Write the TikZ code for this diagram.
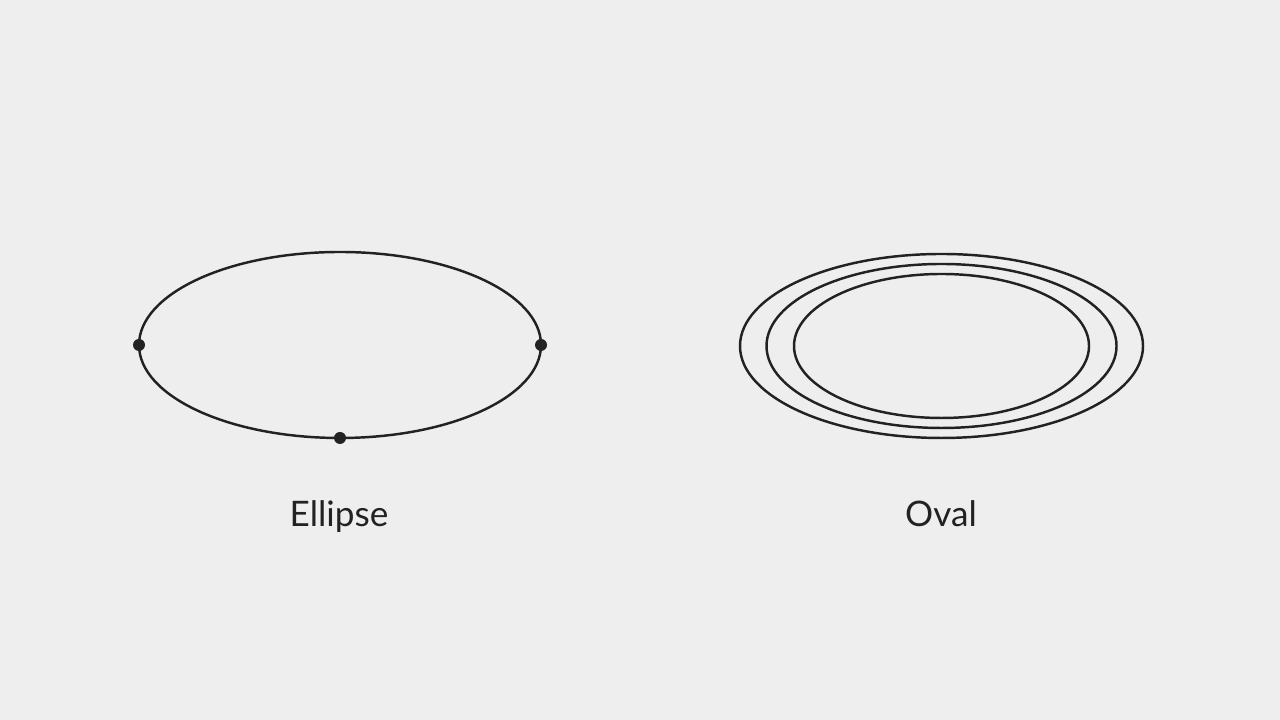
\documentclass[tikz,border=0pt]{standalone}
\usepackage{fontspec}
\setmainfont{Lato}
\definecolor{bgcol}{HTML}{EEEEEE}
\definecolor{inkcol}{HTML}{222222}
\tikzset{
  curve/.style={draw=inkcol, line width=0.7pt},
  dot/.style={circle, fill=inkcol, inner sep=0pt, minimum size=0.12cm},
  caption/.style={anchor=base, text=inkcol, font=\fontsize{10}{12}\selectfont}
}
\begin{document}
\begin{tikzpicture}
    \fill[bgcol] (0,0) rectangle (12.8,7.2);
    \useasboundingbox (0,0) rectangle (12.8,7.2);
    % ellipse with points
    \coordinate (ec) at (3.40,3.75);
    \draw[curve] (ec) ellipse [x radius=2.01cm, y radius=0.93cm];
    \node[dot] (el) at (1.39,3.75) {};
    \node[dot] (er) at (5.41,3.75) {};
    \node[dot] (eb) at (3.40,2.82) {};
    \node[caption] (elabel) at (3.39,1.93) {Ellipse};
    % oval rings
    \coordinate (oc) at (9.415,3.74);
    \draw[curve] (oc) ellipse [x radius=2.015cm, y radius=0.92cm];
    \draw[curve] (oc) ellipse [x radius=1.75cm, y radius=0.82cm];
    \draw[curve] (oc) ellipse [x radius=1.475cm, y radius=0.72cm];
    \node[caption] (olabel) at (9.41,1.93) {Oval};
\end{tikzpicture}
\end{document}
